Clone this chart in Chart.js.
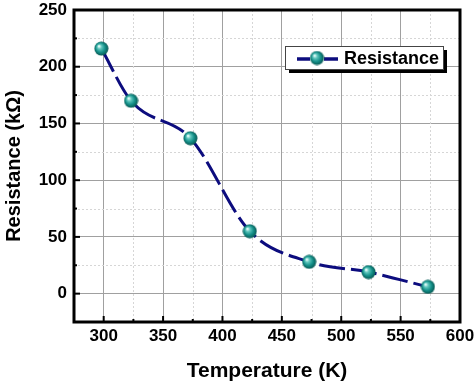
<!DOCTYPE html>
<html>
<head>
<meta charset="utf-8">
<script src="https://cdn.jsdelivr.net/npm/chart.js@4.4.1/dist/chart.umd.min.js"></script>
<style>
    html, body { margin: 0; padding: 0; background: #fff; }
    #wrap { width: 474px; height: 386px; position: relative; }
</style>
</head>
<body>
<div id="wrap"><canvas id="resistanceChart"></canvas></div>
<script>
// Data
const temperatures = [298, 323, 373, 423, 473, 523, 573];
const resistance = [216, 170, 137, 55, 28, 19, 6];
const xTickLabels = [300, 350, 400, 450, 500, 550, 600];
const yTickLabels = [0, 50, 100, 150, 200, 250];

const FONT = "'Liberation Sans', Arial, sans-serif";

// Shaded teal sphere used as the marker
function makeSphere(size) {
    const c = document.createElement("canvas");
    c.width = size;
    c.height = size;
    const g = c.getContext("2d");
    const r = size / 2;
    const grad = g.createRadialGradient(r - 2.5, r - 2.5, 0.5, r, r, r);
    grad.addColorStop(0, "#eafffb");
    grad.addColorStop(0.25, "#5fc6bd");
    grad.addColorStop(0.6, "#149089");
    grad.addColorStop(1, "#06504b");
    g.fillStyle = grad;
    g.beginPath();
    g.arc(r, r, r - 0.5, 0, Math.PI * 2);
    g.fill();
    return c;
}
const sphere = makeSphere(15);

// ticks every 25, labels only on the major ones
function withMinor(major) {
    const out = [{ value: major[0] - 25 }];
    major.forEach((v) => {
        out.push({ value: v });
        out.push({ value: v + 25 });
    });
    out.pop();
    return out;
}

// frame, dotted minor grid, inward tick marks, legend
const framePlugin = {
    id: "frame",
    beforeDatasetsDraw(chart) {
        const { ctx, chartArea: a, scales } = chart;
        ctx.save();
        ctx.strokeStyle = "#d6d6d6";
        ctx.lineWidth = 1;
        ctx.setLineDash([2, 2]);
        scales.x.ticks.forEach((t) => {
            if (xTickLabels.includes(t.value) || t.value === scales.x.min) return;
            const px = Math.round(scales.x.getPixelForValue(t.value)) + 0.5;
            ctx.beginPath();
            ctx.moveTo(px, a.top);
            ctx.lineTo(px, a.bottom);
            ctx.stroke();
        });
        scales.y.ticks.forEach((t) => {
            if (yTickLabels.includes(t.value) || t.value === scales.y.min) return;
            const py = Math.round(scales.y.getPixelForValue(t.value)) + 0.5;
            ctx.beginPath();
            ctx.moveTo(a.left, py);
            ctx.lineTo(a.right, py);
            ctx.stroke();
        });
        ctx.restore();
    },
    afterDraw(chart) {
        const { ctx, chartArea: a, scales } = chart;
        ctx.save();
        // box
        ctx.strokeStyle = "#000";
        ctx.lineWidth = 3;
        ctx.strokeRect(a.left, a.top, a.right - a.left, a.bottom - a.top);
        // inward ticks
        ctx.lineWidth = 2;
        scales.x.ticks.forEach((t) => {
            const px = scales.x.getPixelForValue(t.value);
            const len = xTickLabels.includes(t.value) ? 6 : 3;
            ctx.beginPath();
            ctx.moveTo(px, a.bottom);
            ctx.lineTo(px, a.bottom - len);
            ctx.stroke();
        });
        scales.y.ticks.forEach((t) => {
            const py = scales.y.getPixelForValue(t.value);
            const len = yTickLabels.includes(t.value) ? 6 : 3;
            ctx.beginPath();
            ctx.moveTo(a.left, py);
            ctx.lineTo(a.left + len, py);
            ctx.stroke();
        });

        // legend box with drop shadow
        const bx = 285, by = 46, bw = 158, bh = 23;
        ctx.fillStyle = "#000";
        ctx.fillRect(bx + 4, by + 4, bw, bh);
        ctx.fillStyle = "#fff";
        ctx.fillRect(bx, by, bw, bh);
        ctx.lineWidth = 1;
        ctx.strokeStyle = "#444";
        ctx.strokeRect(bx + 0.5, by + 0.5, bw, bh);
        const ds = chart.data.datasets[0];
        ctx.strokeStyle = ds.borderColor;
        ctx.lineWidth = 3.5;
        ctx.beginPath();
        ctx.moveTo(297, 59);
        ctx.lineTo(310, 59);
        ctx.moveTo(324, 59);
        ctx.lineTo(338, 59);
        ctx.stroke();
        ctx.drawImage(sphere, 317 - 7.5, 58 - 7.5);
        ctx.fillStyle = "#000";
        ctx.font = "bold 18px " + FONT;
        ctx.textBaseline = "middle";
        ctx.fillText(ds.label, 344, 59);
        ctx.restore();
    },
};

new Chart(document.getElementById("resistanceChart"), {
    type: "line",
    data: {
        labels: temperatures,
        datasets: [
            {
                label: "Resistance",
                data: temperatures.map((t, i) => ({ x: t, y: resistance[i] })),
                borderColor: "#0c0c7e",
                borderWidth: 3,
                borderDash: [26, 6],
                cubicInterpolationMode: "monotone",
                pointStyle: sphere,
                pointRadius: 7,
                fill: false,
            },
        ],
    },
    options: {
        responsive: true,
        maintainAspectRatio: false,
        animation: false,
        layout: { padding: 0 },
        plugins: {
            legend: { display: false },
            tooltip: { enabled: false },
        },
        scales: {
            x: {
                type: "linear",
                min: 275,
                max: 600,
                afterBuildTicks: (scale) => {
                    scale.ticks = withMinor(xTickLabels);
                },
                afterFit: (scale) => {
                    scale.height = 64;
                    scale.paddingLeft = 0;
                    scale.paddingRight = 14;
                },
                ticks: {
                    autoSkip: false,
                    maxRotation: 0,
                    color: "#000",
                    padding: 4,
                    font: { family: FONT, size: 17, weight: "bold" },
                    callback: (v) => (xTickLabels.includes(v) ? v : ""),
                },
                grid: {
                    drawTicks: false,
                    color: (c) =>
                        c.tick && xTickLabels.includes(c.tick.value) ? "#a0a0a0" : "rgba(0,0,0,0)",
                },
                border: { display: false },
                title: {
                    display: true,
                    text: "Temperature (K)",
                    color: "#000",
                    padding: { top: 0, bottom: 2 },
                    font: { family: FONT, size: 21, weight: "bold" },
                },
            },
            y: {
                type: "linear",
                min: -25,
                max: 250,
                afterBuildTicks: (scale) => {
                    scale.ticks = withMinor(yTickLabels);
                },
                afterFit: (scale) => {
                    scale.width = 74;
                    scale.paddingTop = 7;
                    scale.paddingBottom = 0;
                },
                ticks: {
                    autoSkip: false,
                    color: "#000",
                    padding: 7,
                    font: { family: FONT, size: 17, weight: "bold" },
                    callback: (v) => (yTickLabels.includes(v) ? v : ""),
                },
                grid: {
                    drawTicks: false,
                    color: (c) =>
                        c.tick && yTickLabels.includes(c.tick.value) ? "#a0a0a0" : "rgba(0,0,0,0)",
                },
                border: { display: false },
                title: {
                    display: true,
                    text: "Resistance (kΩ)",
                    color: "#000",
                    padding: { top: 2, bottom: 0 },
                    font: { family: FONT, size: 20, weight: "bold" },
                },
            },
        },
    },
    plugins: [framePlugin],
});
</script>
</body>
</html>
